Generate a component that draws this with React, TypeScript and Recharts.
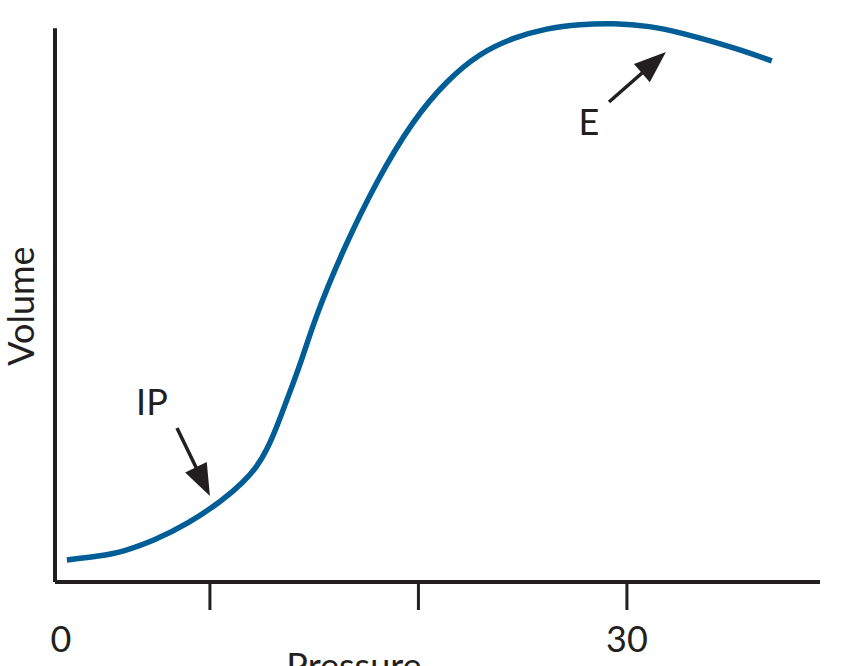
import React from 'react';
import { LineChart, Line, XAxis, YAxis, ReferenceLine, ReferenceDot, Label } from 'recharts';

// Curve samples (pressure, volume)
const pressure = [3.14, 4.73, 5.78, 7.36, 8.94, 10.62, 11.58, 12.25, 12.73, 13.21, 13.69, 14.33, 15.04, 16.33, 18.06, 19.74, 21.37, 22.95, 24.53, 26.16, 27.75, 29.33, 31.1, 32.69, 34.32, 35.9, 36.95];
const volume = [3.9, 4.6, 5.3, 7.4, 10.3, 14.5, 17.6, 20.4, 23.4, 27.5, 32.3, 38.5, 46.8, 58.5, 71.6, 81.9, 89.0, 93.8, 96.5, 98.2, 98.9, 99.1, 98.6, 97.3, 95.6, 93.8, 92.4];

const X_DOMAIN: [number, number] = [2.57, 39.26];
const Y_DOMAIN: [number, number] = [0, 100];
const xTicks = [2.57, 10, 20, 30];
const xTickLabels = ['0', '', '', '30'];
const Y_AXIS_TOP = 98.2;

const arrowStartX = [8.42, 29.14];
const arrowStartY = [27.3, 85.1];
const arrowTipX = [10.0, 31.87];
const arrowTipY = [15.25, 93.97];

const annotationLabels = ['IP', 'E'];
const annotationX = [7.22, 28.18];
const annotationY = [31.9, 81.6];

const data = pressure.map((p, i) => ({ pressure: p, volume: volume[i] }));

const INK = '#231f20';
const BLUE = '#005d96';
const FONT = 'Lato, "Open Sans", sans-serif';
const FONT_SIZE = 36;
const FONT_WEIGHT = 400;
const TICK_LEN = 28;

const XTick = (props: any) => {
  const { x, y, payload } = props;
  const idx = xTicks.indexOf(payload.value);
  const label = idx >= 0 ? xTickLabels[idx] : '';
  const isOrigin = idx === 0;
  return (
    <g>
      {!isOrigin && (
        <line x1={x} x2={x} y1={y - TICK_LEN} y2={y} stroke={INK} strokeWidth={3} />
      )}
      {label && (
        <text
          x={isOrigin ? x + 6 : x}
          y={y + 42}
          textAnchor="middle"
          fontFamily={FONT}
          fontWeight={FONT_WEIGHT}
          fontSize={FONT_SIZE}
          fill={INK}
        >
          {label}
        </text>
      )}
    </g>
  );
};

const Arrow = (props: any) => {
  const { x1, y1, x2, y2 } = props;
  const dx = x2 - x1;
  const dy = y2 - y1;
  const len = Math.sqrt(dx * dx + dy * dy) || 1;
  const ux = dx / len;
  const uy = dy / len;
  const headLen = 32;
  const halfW = 12;
  const bx = x2 - ux * headLen;
  const by = y2 - uy * headLen;
  const px = -uy;
  const py = ux;
  const pts = `${x2},${y2} ${bx + px * halfW},${by + py * halfW} ${bx - px * halfW},${by - py * halfW}`;
  return (
    <g>
      <line x1={x1} y1={y1} x2={bx + ux * 4} y2={by + uy * 4} stroke={INK} strokeWidth={3.5} />
      <polygon points={pts} fill={INK} />
    </g>
  );
};

const AnnotationText = (label: string) => (props: any) => (
  <text
    x={props.cx}
    y={props.cy + 13}
    textAnchor="middle"
    fontFamily={FONT}
    fontWeight={FONT_WEIGHT}
    fontSize={FONT_SIZE}
    fill={INK}
  >
    {label}
  </text>
);

export default function App() {
  return (
    <div style={{ position: 'absolute', left: 0, top: 0, width: 848, height: 666, overflow: 'hidden', background: '#fff' }}>
      <LineChart width={848} height={666} data={data} margin={{ top: 18, right: 28, bottom: 24, left: 10 }}>
        <XAxis
          type="number"
          dataKey="pressure"
          domain={X_DOMAIN}
          ticks={xTicks}
          interval={0}
          height={60}
          axisLine={{ stroke: INK, strokeWidth: 4 }}
          tickLine={false}
          tickSize={TICK_LEN}
          tickMargin={0}
          tick={<XTick />}
        >
          <Label
            content={(p: any) => {
              const vb = p.viewBox || { x: 55, y: 582 };
              return (
                <text x={vb.x + 299} y={vb.y + 97} textAnchor="middle" fontFamily={FONT} fontWeight={FONT_WEIGHT} fontSize={FONT_SIZE} fill={INK}>
                  Pressure
                </text>
              );
            }}
          />
        </XAxis>
        <YAxis
          type="number"
          domain={Y_DOMAIN}
          width={45}
          axisLine={false}
          tickLine={false}
          tick={false}
        >
          <Label
            content={(p: any) => {
              const vb = p.viewBox || { x: 10, y: 18, height: 564 };
              const cx = vb.x + 24;
              const cy = vb.y + vb.height / 2 + 6;
              return (
                <text
                  x={cx}
                  y={cy}
                  transform={`rotate(-90, ${cx}, ${cy})`}
                  textAnchor="middle"
                  fontFamily={FONT}
                  fontWeight={FONT_WEIGHT}
                  fontSize={FONT_SIZE}
                  fill={INK}
                >
                  Volume
                </text>
              );
            }}
          />
        </YAxis>
        <ReferenceLine
          segment={[{ x: X_DOMAIN[0], y: 0 }, { x: X_DOMAIN[0], y: Y_AXIS_TOP }]}
          stroke={INK}
          strokeWidth={4}
          ifOverflow="visible"
        />
        {arrowStartX.map((sx, i) => (
          <ReferenceLine
            key={'arrow' + i}
            segment={[{ x: sx, y: arrowStartY[i] }, { x: arrowTipX[i], y: arrowTipY[i] }]}
            ifOverflow="visible"
            shape={<Arrow />}
          />
        ))}
        {annotationLabels.map((lab, i) => (
          <ReferenceDot
            key={'ann' + i}
            x={annotationX[i]}
            y={annotationY[i]}
            r={1}
            ifOverflow="visible"
            shape={AnnotationText(lab)}
          />
        ))}
        <Line
          type="basis"
          dataKey="volume"
          stroke={BLUE}
          strokeWidth={5.5}
          dot={false}
          activeDot={false}
          isAnimationActive={false}
        />
      </LineChart>
    </div>
  );
}
